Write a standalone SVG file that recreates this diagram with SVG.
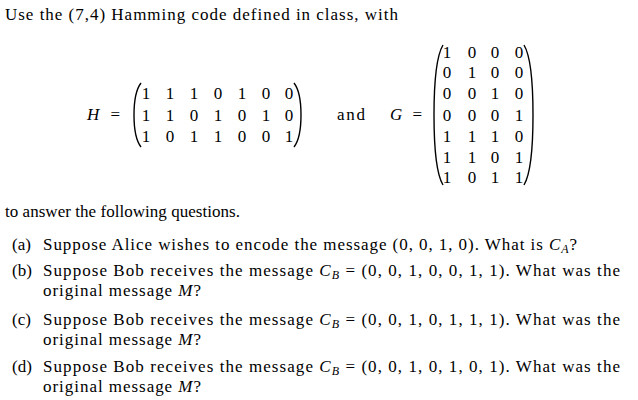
<svg xmlns="http://www.w3.org/2000/svg" width="638" height="400" viewBox="0 0 638 400">
<style>
text{font-family:"Liberation Serif","DejaVu Serif",serif;font-size:17px;fill:#000}
.i{font-style:italic}
.s{font-size:12px;font-style:italic}
.m text{text-anchor:middle}
.p{fill:none;stroke:#000;stroke-width:1.4}
</style>
<rect width="638" height="400" fill="#fff"/>
<text x="5" y="20" textLength="393" lengthAdjust="spacing">Use the (7,4) Hamming code defined in class, with</text>
<g id="H">
<text x="87" y="120" textLength="33" lengthAdjust="spacing"><tspan class="i">H</tspan> =</text>
<path class="p" d="M141,83 Q134,92 134,115 Q134,138 141,147"/>
<path class="p" d="M294,83 Q301,92 301,115 Q301,138 294,147"/>
<g class="m">
<text x="146" y="99">1</text><text x="170" y="99">1</text><text x="194" y="99">1</text><text x="218" y="99">0</text><text x="242" y="99">1</text><text x="266" y="99">0</text><text x="289" y="99">0</text>
<text x="146" y="121">1</text><text x="170" y="121">1</text><text x="194" y="121">0</text><text x="218" y="121">1</text><text x="242" y="121">0</text><text x="266" y="121">1</text><text x="289" y="121">0</text>
<text x="146" y="142">1</text><text x="170" y="142">0</text><text x="194" y="142">1</text><text x="218" y="142">1</text><text x="242" y="142">0</text><text x="266" y="142">0</text><text x="289" y="142">1</text>
</g>
</g>
<text x="337" y="120" textLength="28" lengthAdjust="spacing">and</text>
<g id="G">
<text x="390" y="120" textLength="32" lengthAdjust="spacing"><tspan class="i">G</tspan> =</text>
<path class="p" d="M443,45 Q434,60 434,115 Q434,170 443,185"/>
<path class="p" d="M524,45 Q533,60 533,115 Q533,170 524,185"/>
<g class="m">
<text x="447" y="58">1</text><text x="472" y="58">0</text><text x="495" y="58">0</text><text x="519" y="58">0</text>
<text x="447" y="78">0</text><text x="472" y="78">1</text><text x="495" y="78">0</text><text x="519" y="78">0</text>
<text x="447" y="99">0</text><text x="472" y="99">0</text><text x="495" y="99">1</text><text x="519" y="99">0</text>
<text x="447" y="121">0</text><text x="472" y="121">0</text><text x="495" y="121">0</text><text x="519" y="121">1</text>
<text x="447" y="142">1</text><text x="472" y="142">1</text><text x="495" y="142">1</text><text x="519" y="142">0</text>
<text x="447" y="163">1</text><text x="472" y="163">1</text><text x="495" y="163">0</text><text x="519" y="163">1</text>
<text x="447" y="183">1</text><text x="472" y="183">0</text><text x="495" y="183">1</text><text x="519" y="183">1</text>
</g>
</g>
<text x="5" y="217" textLength="235" lengthAdjust="spacing">to answer the following questions.</text>
<text x="12" y="250">(a)</text>
<text x="43" y="250" textLength="534" lengthAdjust="spacing">Suppose Alice wishes to encode the message (0, 0, 1, 0). What is <tspan class="i">C</tspan><tspan class="s" dy="3">A</tspan><tspan dy="-3">?</tspan></text>
<text x="12" y="276">(b)</text>
<text x="43" y="276" textLength="577" lengthAdjust="spacing">Suppose Bob receives the message <tspan class="i">C</tspan><tspan class="s" dy="3">B</tspan><tspan dy="-3"> = (0, 0, 1, 0, 0, 1, 1). What was the</tspan></text>
<text x="43" y="296" textLength="158" lengthAdjust="spacing">original message <tspan class="i">M</tspan>?</text>
<text x="12" y="325">(c)</text>
<text x="43" y="325" textLength="577" lengthAdjust="spacing">Suppose Bob receives the message <tspan class="i">C</tspan><tspan class="s" dy="3">B</tspan><tspan dy="-3"> = (0, 0, 1, 0, 1, 1, 1). What was the</tspan></text>
<text x="43" y="345" textLength="158" lengthAdjust="spacing">original message <tspan class="i">M</tspan>?</text>
<text x="12" y="372">(d)</text>
<text x="43" y="372" textLength="577" lengthAdjust="spacing">Suppose Bob receives the message <tspan class="i">C</tspan><tspan class="s" dy="3">B</tspan><tspan dy="-3"> = (0, 0, 1, 0, 1, 0, 1). What was the</tspan></text>
<text x="43" y="392" textLength="158" lengthAdjust="spacing">original message <tspan class="i">M</tspan>?</text>
</svg>
